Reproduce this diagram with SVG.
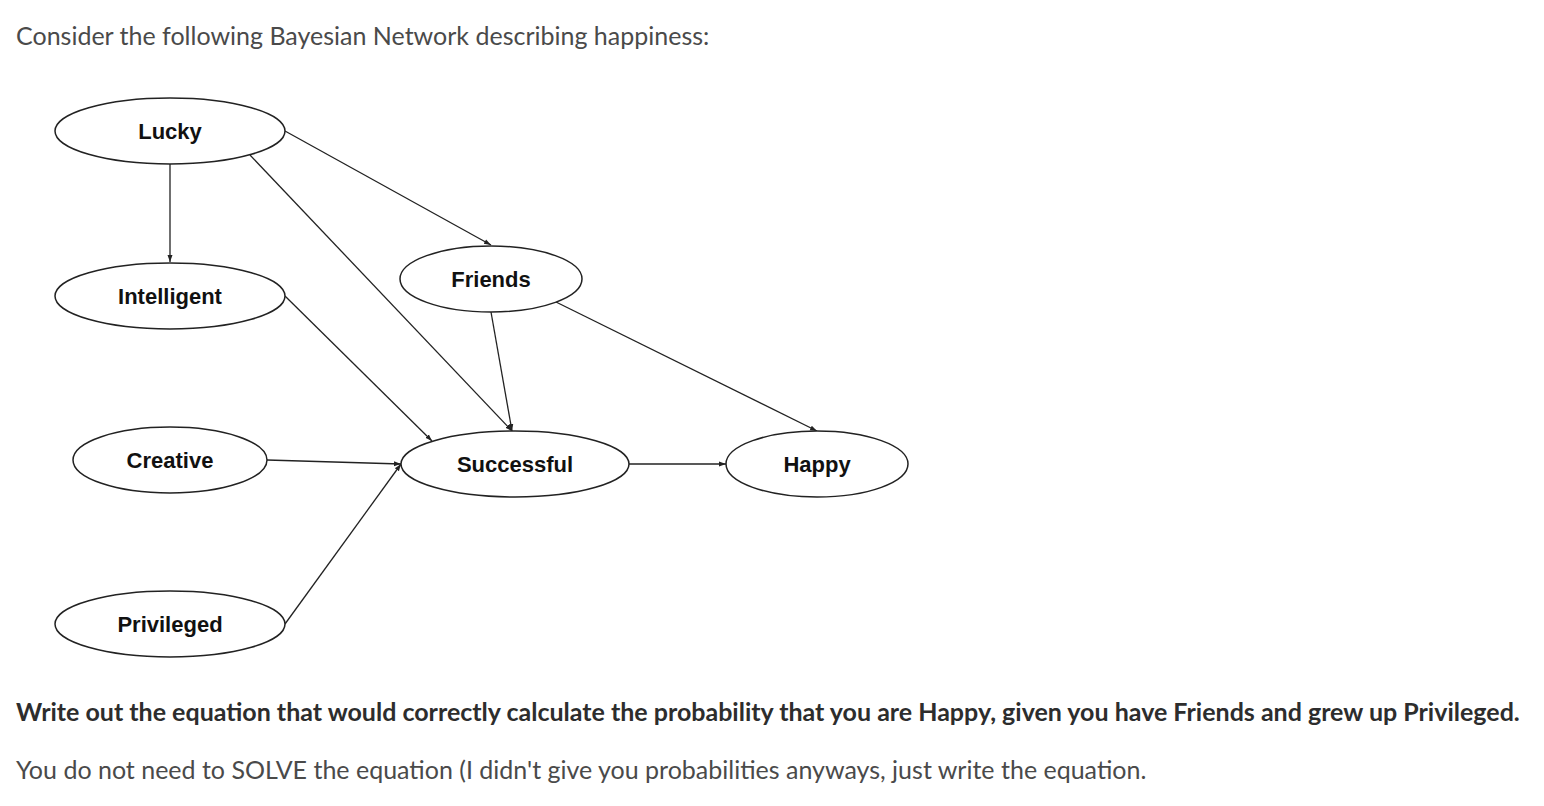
<svg xmlns="http://www.w3.org/2000/svg" width="1544" height="806" viewBox="0 0 1544 806">
<style>
.n{fill:#fff;stroke:#222;stroke-width:1.5}
.l{font-family:"Liberation Sans",Arial,sans-serif;font-weight:bold;font-size:22px;fill:#111;text-anchor:middle;dominant-baseline:central}
.t{font-family:Lato,"Liberation Sans",sans-serif;font-size:25px;fill:#4a4a4a}
.e{stroke:#222;stroke-width:1.3;fill:none;marker-end:url(#a)}
</style>
<defs><marker id="a" markerWidth="8" markerHeight="8" refX="7" refY="4" orient="auto" markerUnits="userSpaceOnUse"><path d="M0,1.5L7,4L0,6.5z" fill="#222"/></marker></defs>
<rect width="1544" height="806" fill="#fff"/>
<text class="t" x="16" y="45">Consider the following Bayesian Network describing happiness:</text>
<g id="edges">
<line class="e" x1="170" y1="164" x2="170" y2="262"/>
<line class="e" x1="285" y1="131" x2="491" y2="245"/>
<line class="e" x1="250" y1="155" x2="512" y2="431"/>
<line class="e" x1="285" y1="296" x2="432" y2="441"/>
<line class="e" x1="491" y1="312" x2="512" y2="431"/>
<line class="e" x1="556" y1="302" x2="817" y2="431"/>
<line class="e" x1="267" y1="460" x2="401" y2="464"/>
<line class="e" x1="285" y1="624" x2="401" y2="464"/>
<line class="e" x1="629" y1="464" x2="726" y2="464"/>
</g>
<g id="lucky"><ellipse class="n" cx="170" cy="131" rx="115" ry="33"/><text class="l" x="170" y="131">Lucky</text></g>
<g id="intelligent"><ellipse class="n" cx="170" cy="296" rx="115" ry="33"/><text class="l" x="170" y="296">Intelligent</text></g>
<g id="creative"><ellipse class="n" cx="170" cy="460" rx="97" ry="33"/><text class="l" x="170" y="460">Creative</text></g>
<g id="privileged"><ellipse class="n" cx="170" cy="624" rx="115" ry="33"/><text class="l" x="170" y="624">Privileged</text></g>
<g id="friends"><ellipse class="n" cx="491" cy="279" rx="91" ry="33"/><text class="l" x="491" y="279">Friends</text></g>
<g id="successful"><ellipse class="n" cx="515" cy="464" rx="114" ry="33"/><text class="l" x="515" y="464">Successful</text></g>
<g id="happy"><ellipse class="n" cx="817" cy="464" rx="91" ry="33"/><text class="l" x="817" y="464">Happy</text></g>
<text class="t" x="16" y="721" style="font-weight:bold;fill:#2d2d2d">Write out the equation that would correctly calculate the probability that you are Happy, given you have Friends and grew up Privileged.</text>
<text class="t" x="16" y="779">You do not need to SOLVE the equation (I didn't give you probabilities anyways, just write the equation.</text>
</svg>
